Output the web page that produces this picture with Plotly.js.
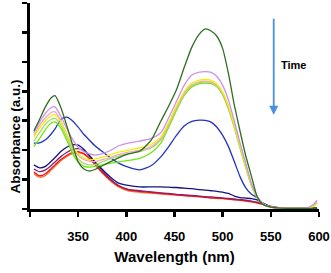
<!DOCTYPE html>
<html>
<head>
<meta charset="utf-8">
<script src="https://cdn.plot.ly/plotly-3.0.1.min.js"></script>
<style>html,body{margin:0;padding:0;background:#fff;}#chart{width:331px;height:273px;}</style>
</head>
<body>
<div id="chart"></div>
<script>
// Wavelength grid (nm)
const wavelength = [304,310,316,322,326,332,338,344,350,356,362,368,375,383,392,402,414,426,436,444,452,460,468,476,482,488,494,500,506,512,518,524,530,536,542,550,560,575,588,594,598];

// Absorbance spectra (a.u.), in order of time
const darkGreen = [2.65,3.05,3.47,3.78,3.85,3.45,2.85,2.2,1.6,1.36,1.29,1.35,1.47,1.6,1.74,1.87,1.97,2.35,3.0,3.5,4.05,4.8,5.5,5.95,6.12,6.05,5.87,5.45,4.6,3.55,2.65,1.8,1.1,0.4,0.15,0.06,0.03,0.02,0.02,0.03,0.05];
const violet = [2.6,2.95,3.25,3.45,3.47,3.15,2.75,2.38,2.1,1.95,1.87,1.83,1.88,1.98,2.15,2.24,2.31,2.4,2.6,3.1,3.65,4.2,4.55,4.65,4.67,4.64,4.5,4.2,3.7,3.0,2.25,1.55,0.85,0.42,0.18,0.07,0.03,0.02,0.04,0.15,0.3];
const yellow = [2.45,2.75,3.0,3.17,3.2,2.95,2.55,2.15,1.88,1.73,1.67,1.7,1.76,1.84,1.93,2.0,2.08,2.2,2.45,2.95,3.5,3.98,4.28,4.38,4.4,4.37,4.25,3.97,3.5,2.85,2.15,1.45,0.8,0.4,0.17,0.06,0.03,0.02,0.03,0.08,0.18];
const pink = [2.5,2.85,3.1,3.28,3.3,3.0,2.55,2.1,1.82,1.68,1.62,1.62,1.68,1.75,1.85,1.93,2.0,2.12,2.4,2.9,3.45,3.92,4.22,4.32,4.34,4.31,4.2,3.93,3.48,2.85,2.17,1.5,0.85,0.43,0.18,0.07,0.03,0.02,0.03,0.1,0.25];
const paleGreen = [2.3,2.6,2.88,3.05,3.08,2.85,2.45,2.0,1.7,1.55,1.5,1.52,1.6,1.7,1.8,1.88,1.95,2.08,2.35,2.85,3.4,3.9,4.2,4.3,4.32,4.3,4.18,3.9,3.42,2.8,2.1,1.42,0.78,0.38,0.16,0.06,0.03,0.02,0.03,0.08,0.2];
const lime = [2.12,2.4,2.7,2.92,2.96,2.75,2.35,1.9,1.6,1.45,1.42,1.45,1.5,1.55,1.6,1.65,1.72,1.92,2.25,2.78,3.35,3.85,4.15,4.26,4.28,4.26,4.15,3.88,3.4,2.78,2.08,1.4,0.78,0.38,0.16,0.06,0.03,0.02,0.03,0.1,0.22];
const blue = [2.24,2.25,2.35,2.55,2.72,3.05,3.12,3.0,2.78,2.53,2.33,2.13,1.95,1.75,1.56,1.42,1.33,1.48,1.78,2.12,2.5,2.82,2.98,3.02,3.01,2.95,2.78,2.5,2.12,1.62,1.1,0.72,0.5,0.38,0.18,0.06,0.03,0.02,0.02,0.03,0.04];
const navy = [1.5,1.4,1.45,1.62,1.75,1.95,2.1,2.18,2.17,2.02,1.8,1.58,1.35,1.1,0.88,0.8,0.75,0.75,0.75,0.74,0.73,0.71,0.69,0.66,0.64,0.62,0.6,0.57,0.53,0.44,0.39,0.37,0.35,0.31,0.2,0.07,0.02,0.02,0.02,0.02,0.03];
const maroon = [1.36,1.27,1.33,1.48,1.6,1.78,1.92,2.02,2.05,1.98,1.8,1.57,1.3,1.03,0.8,0.67,0.62,0.58,0.55,0.53,0.5,0.48,0.46,0.44,0.42,0.41,0.39,0.38,0.36,0.34,0.32,0.3,0.27,0.23,0.17,0.08,0.03,0.02,0.02,0.02,0.03];
const red = [1.26,1.13,1.2,1.38,1.5,1.68,1.82,1.92,1.95,1.88,1.72,1.5,1.25,1.0,0.78,0.65,0.6,0.56,0.53,0.51,0.48,0.46,0.44,0.42,0.4,0.38,0.37,0.36,0.34,0.32,0.3,0.28,0.25,0.21,0.16,0.09,0.04,0.02,0.02,0.02,0.02];
const orange = [1.2,1.08,1.14,1.32,1.45,1.64,1.78,1.88,1.92,1.86,1.7,1.48,1.22,0.97,0.75,0.62,0.57,0.54,0.51,0.49,0.47,0.45,0.43,0.41,0.39,0.37,0.36,0.35,0.33,0.31,0.29,0.27,0.24,0.2,0.15,0.09,0.04,0.02,0.02,0.02,0.02];

const xTickVals = [300,350,400,450,500,550,600];
const xTickText = ['','350','400','450','500','550','600'];

const seriesList = [
  {y: orange, color: '#ff6a30'},
  {y: red, color: '#ee1515'},
  {y: maroon, color: '#8a2070'},
  {y: navy, color: '#141480'},
  {y: blue, color: '#2233c0'},
  {y: lime, color: '#70e810'},
  {y: paleGreen, color: '#a8d870'},
  {y: pink, color: '#f2a6c6'},
  {y: yellow, color: '#f0f000'},
  {y: violet, color: '#cc90ee'},
  {y: darkGreen, color: '#2f6e22'}
];

const traces = seriesList.map(s => ({
  x: wavelength, y: s.y, type: 'scatter', mode: 'lines',
  line: {color: s.color, width: 1.3, shape: 'spline', smoothing: 0.6},
  hoverinfo: 'skip'
}));

const font = {family: 'Liberation Sans, Arial, sans-serif', color: '#000', weight: 'bold'};

const layout = {
  width: 331, height: 273,
  margin: {l: 30, r: 12, t: 3, b: 64},
  paper_bgcolor: '#fff', plot_bgcolor: '#fff',
  showlegend: false,
  xaxis: {
    range: [300, 600], tickvals: xTickVals, ticktext: xTickText,
    ticks: 'outside', ticklen: 5, tickwidth: 2.5, tickcolor: '#000',
    showline: true, linewidth: 3, linecolor: '#000', showgrid: false, zeroline: false,
    tickfont: Object.assign({size: 13}, font),
    ticklabelstandoff: 8,
    title: {text: 'Wavelength (nm)', font: Object.assign({size: 15}, font), standoff: 9}
  },
  yaxis: {
    range: [0, 7], dtick: 1, tick0: 0,
    ticks: 'outside', ticklen: 5, tickwidth: 2.5, tickcolor: '#000',
    showline: true, linewidth: 3, linecolor: '#000', showgrid: false, zeroline: false,
    showticklabels: false
  },
  annotations: [
    {xref: 'paper', yref: 'paper', x: -0.05, y: 0.35, text: 'Absorbance (a.u.)', textangle: -90,
     showarrow: false, xanchor: 'center', yanchor: 'middle', font: Object.assign({size: 13.5}, font)},
    {xref: 'x', yref: 'y', x: 574, y: 4.89, text: 'Time', showarrow: false,
     font: Object.assign({size: 11}, font)},
    {xref: 'x', yref: 'y', axref: 'x', ayref: 'y', x: 553, y: 3.2, ax: 553, ay: 6.52, text: '',
     showarrow: true, arrowhead: 2, arrowsize: 1, arrowwidth: 1.8, arrowcolor: '#4a90e2'}
  ]
};

Plotly.newPlot('chart', traces, layout, {staticPlot: true, displayModeBar: false});
</script>
</body>
</html>
